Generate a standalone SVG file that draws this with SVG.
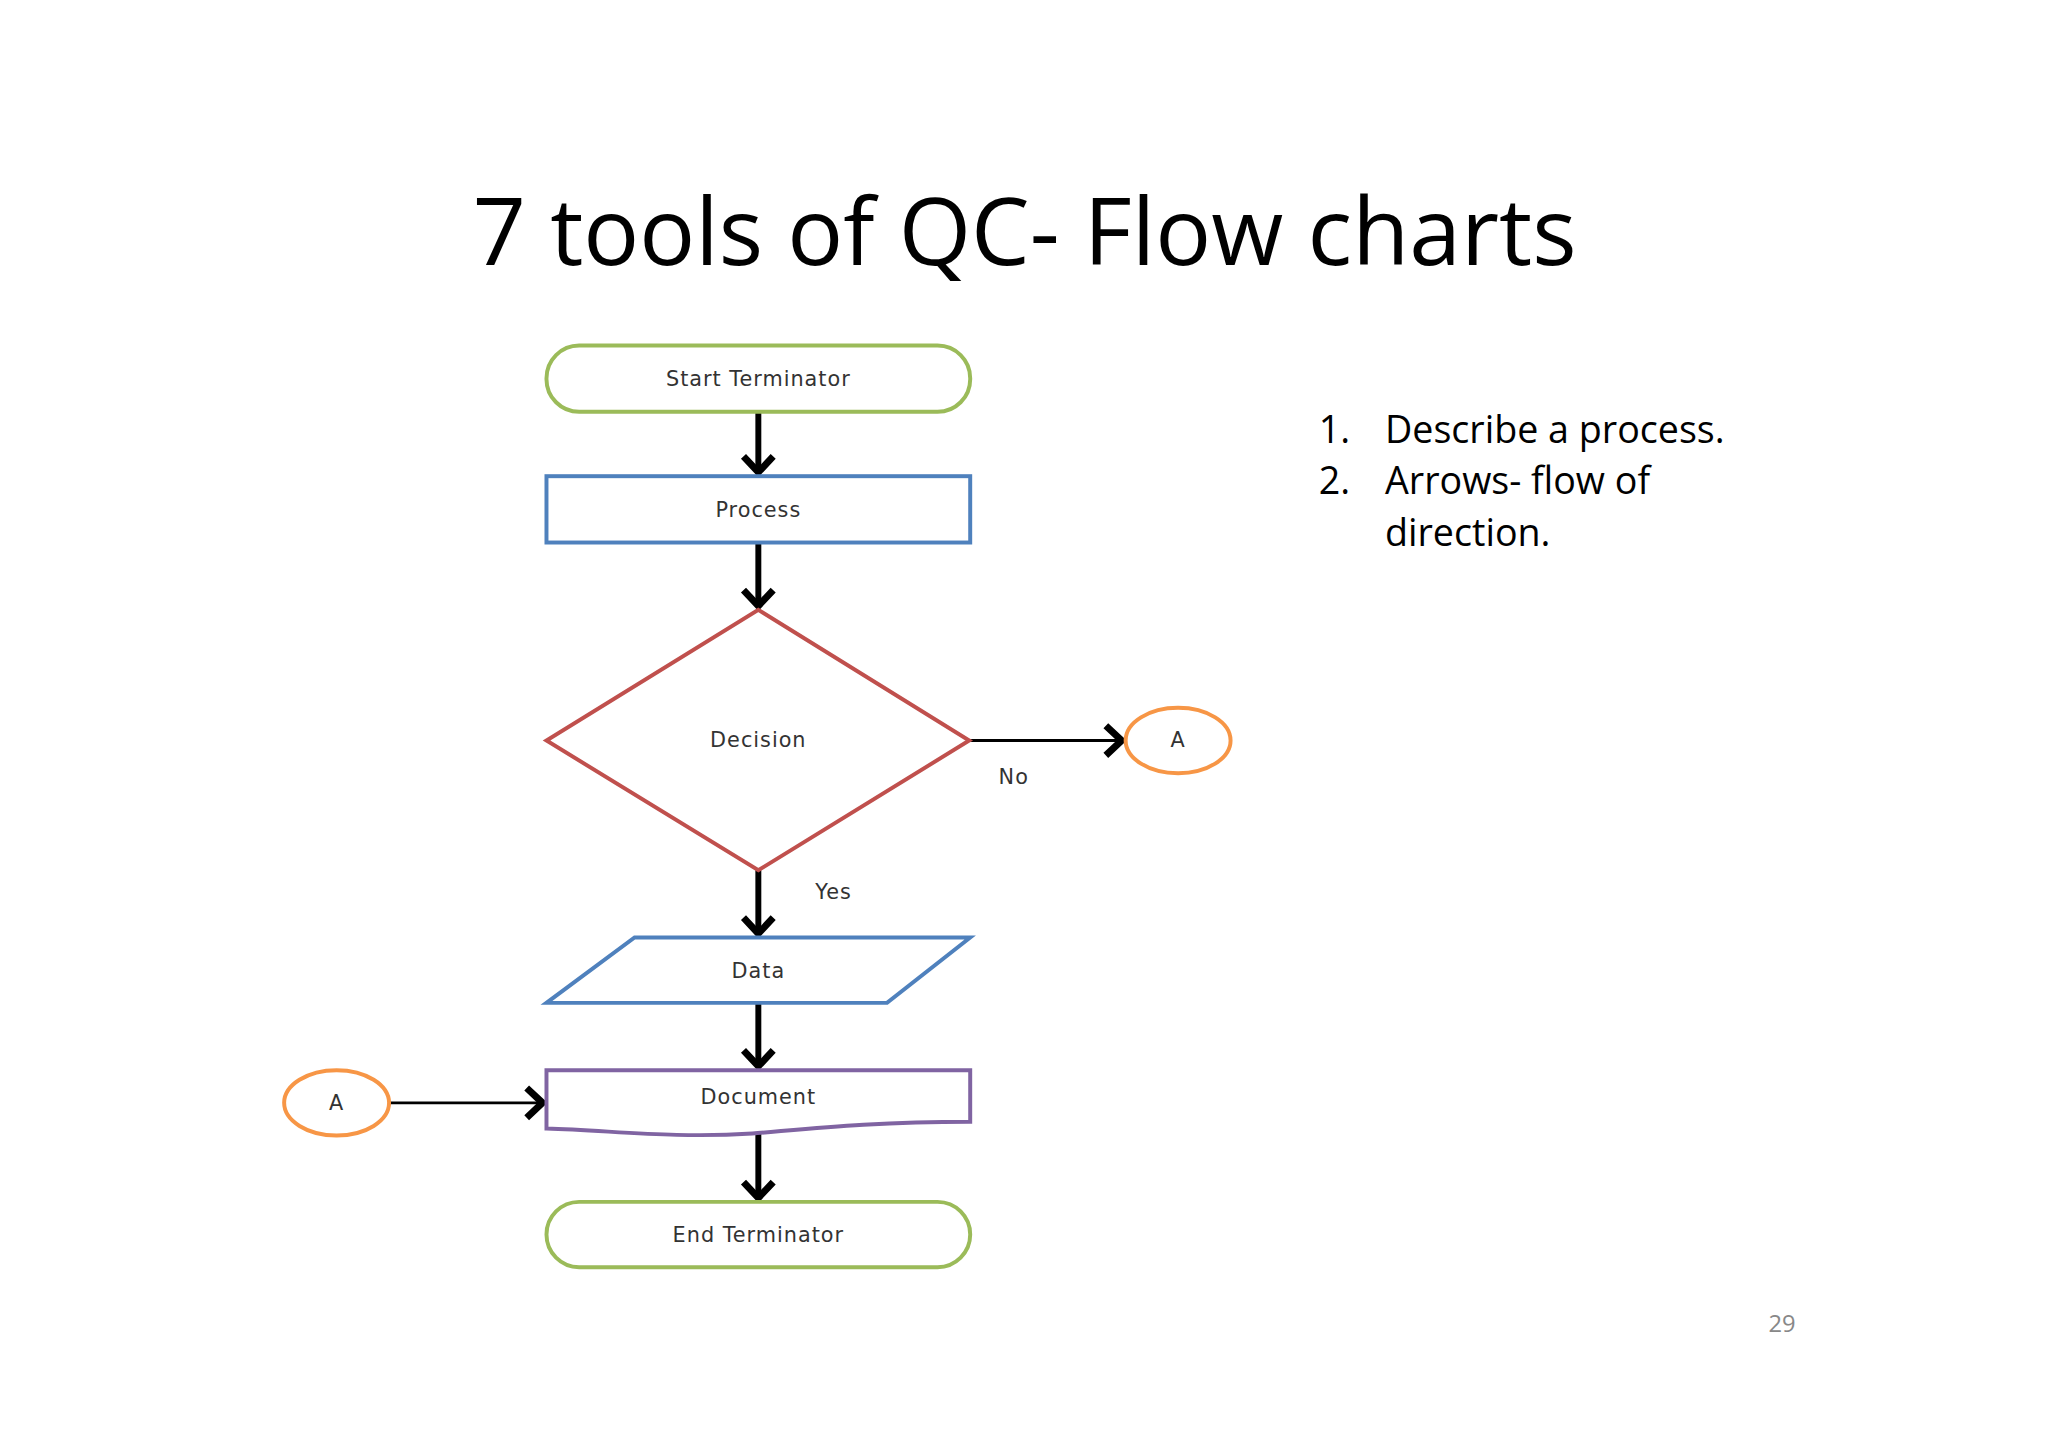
<svg xmlns="http://www.w3.org/2000/svg" width="2048" height="1448" viewBox="0 0 2048 1448">
<style>
.t{font-family:"DejaVu Sans",sans-serif;font-size:21px;fill:#333;text-anchor:middle;letter-spacing:1px}
.c{stroke:#000;stroke-width:6;fill:none}
.h{stroke:#000;stroke-width:3;fill:none}
.g{fill:#fff;stroke:#9bbb59;stroke-width:4}
.b{fill:#fff;stroke:#4f81bd;stroke-width:4}
.o{fill:#fff;stroke:#f79646;stroke-width:4}
</style>
<defs>
<marker id="a" markerUnits="userSpaceOnUse" markerWidth="40" markerHeight="40" refX="20" refY="20" orient="auto" viewBox="0 0 40 40">
<path d="M4 5 L20 20 L4 35" stroke="#000" stroke-width="7" fill="none"/>
</marker>
</defs>
<rect width="2048" height="1448" fill="#fff"/>
<g transform="scale(0.99)">
<text x="1035" y="268" font-family="Open Sans, sans-serif" font-size="94" text-anchor="middle" fill="#000">7 tools of QC- Flow charts</text>
<g id="connectors">
<path class="c" d="M766 416 V477" marker-end="url(#a)"/>
<path class="c" d="M766 548 V612" marker-end="url(#a)"/>
<path class="h" d="M979 748 H1133" marker-end="url(#a)"/>
<path class="c" d="M766 879 V943" marker-end="url(#a)"/>
<path class="c" d="M766 1013 V1077" marker-end="url(#a)"/>
<path class="h" d="M393 1114 H548" marker-end="url(#a)"/>
<path class="c" d="M766 1145 V1210" marker-end="url(#a)"/>
<text class="t" x="1024" y="792">No</text>
<text class="t" x="842" y="908">Yes</text>
</g>
<g id="start"><rect class="g" x="552" y="349" width="428" height="67" rx="33"/><text class="t" x="766" y="390">Start Terminator</text></g>
<g id="process"><rect class="b" x="552" y="481" width="428" height="67"/><text class="t" x="766" y="522">Process</text></g>
<g id="decision"><polygon points="766,616 979,748 766,879 552,748" fill="#fff" stroke="#c0504d" stroke-width="4"/><text class="t" x="766" y="755">Decision</text></g>
<g id="a1"><ellipse class="o" cx="1190" cy="748" rx="53" ry="33"/><text class="t" x="1190" y="755">A</text></g>
<g id="data"><polygon class="b" points="641,947 980,947 896,1013 552,1013"/><text class="t" x="766" y="988">Data</text></g>
<g id="document"><path d="M552 1081 H980 V1133 C880 1133 820 1140 760 1145 C680 1150 620 1142 552 1140 Z" fill="#fff" stroke="#8064a2" stroke-width="4"/><text class="t" x="766" y="1115">Document</text></g>
<g id="a2"><ellipse class="o" cx="340" cy="1114" rx="53" ry="33"/><text class="t" x="340" y="1121">A</text></g>
<g id="end"><rect class="g" x="552" y="1214" width="428" height="66" rx="33"/><text class="t" x="766" y="1255">End Terminator</text></g>
<g font-family="Open Sans, sans-serif" font-size="38" fill="#000">
<text x="1332" y="447">1.</text><text x="1399" y="447">Describe a process.</text>
<text x="1332" y="499">2.</text><text x="1399" y="499">Arrows- flow of</text>
<text x="1399" y="552">direction.</text>
</g>
<text x="1800" y="1345" font-family="Open Sans, sans-serif" font-size="24" fill="#888" text-anchor="middle">29</text>
</g>
</svg>
